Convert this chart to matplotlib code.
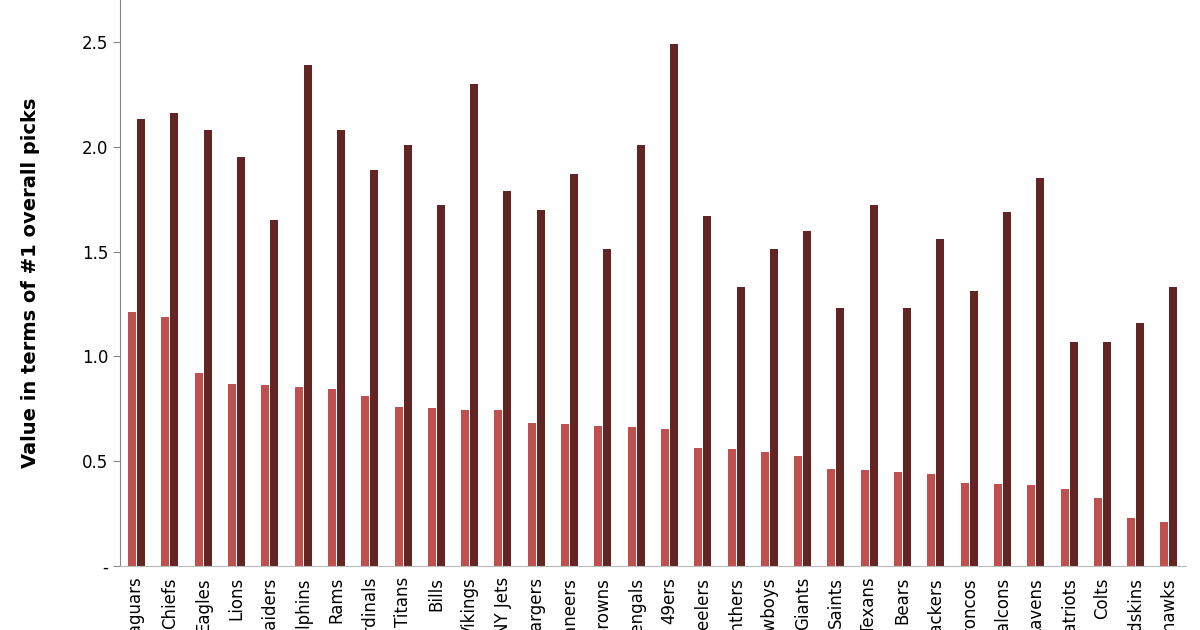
import matplotlib
matplotlib.use("Agg")
import matplotlib.pyplot as plt
import numpy as np

teams = ["Jaguars","Chiefs","Eagles","Lions","Raiders","Dolphins","Rams","Cardinals","Titans","Bills",
         "Vikings","NY Jets","Chargers","Buccaneers","Browns","Bengals","49ers","Steelers","Panthers","Cowboys",
         "Giants","Saints","Texans","Bears","Packers","Broncos","Falcons","Ravens","Patriots","Colts","Redskins","Seahawks"]
series_a = [1.21,1.19,0.92,0.87,0.865,0.855,0.845,0.81,0.76,0.755,0.745,0.745,0.68,0.675,0.67,0.665,0.655,
            0.565,0.56,0.545,0.525,0.465,0.46,0.45,0.44,0.395,0.39,0.385,0.365,0.325,0.23,0.21]
series_b = [2.13,2.16,2.08,1.95,1.65,2.39,2.08,1.89,2.01,1.72,2.30,1.79,1.70,1.87,1.51,2.01,2.49,
            1.67,1.33,1.51,1.60,1.23,1.72,1.23,1.56,1.31,1.69,1.85,1.07,1.07,1.16,1.33]
yticks = [0,0.5,1.0,1.5,2.0,2.5]
ytick_labels = ["-","0.5","1.0","1.5","2.0","2.5"]

fig = plt.figure(figsize=(12,6.3), dpi=100)
ax = fig.add_axes([0.1,0.1016,0.888,0.8984])
x = np.arange(len(teams))
ax.bar(x-0.135, series_a, width=0.24, color="#c0504d")
ax.bar(x+0.135, series_b, width=0.24, color="#632523")
ax.set_xlim(-0.5, len(teams)-0.5)
ax.set_ylim(0, 2.70)
ax.set_yticks(yticks)
ax.set_yticklabels(ytick_labels, fontsize=12)
ax.set_xticks(x)
ax.set_xticklabels(teams, rotation=90, fontsize=12, va="top", ha="center")
ax.tick_params(axis="x", length=0, pad=8)
ax.tick_params(axis="y", length=5, color="#888888")
for s in ["top","right"]:
    ax.spines[s].set_visible(False)
ax.spines["left"].set_color("#888888")
ax.spines["bottom"].set_color("#bbbbbb")
ax.set_ylabel("Value in terms of #1 overall picks", fontsize=14, fontweight="bold", labelpad=30)
fig.savefig("out.png", dpi=100)
